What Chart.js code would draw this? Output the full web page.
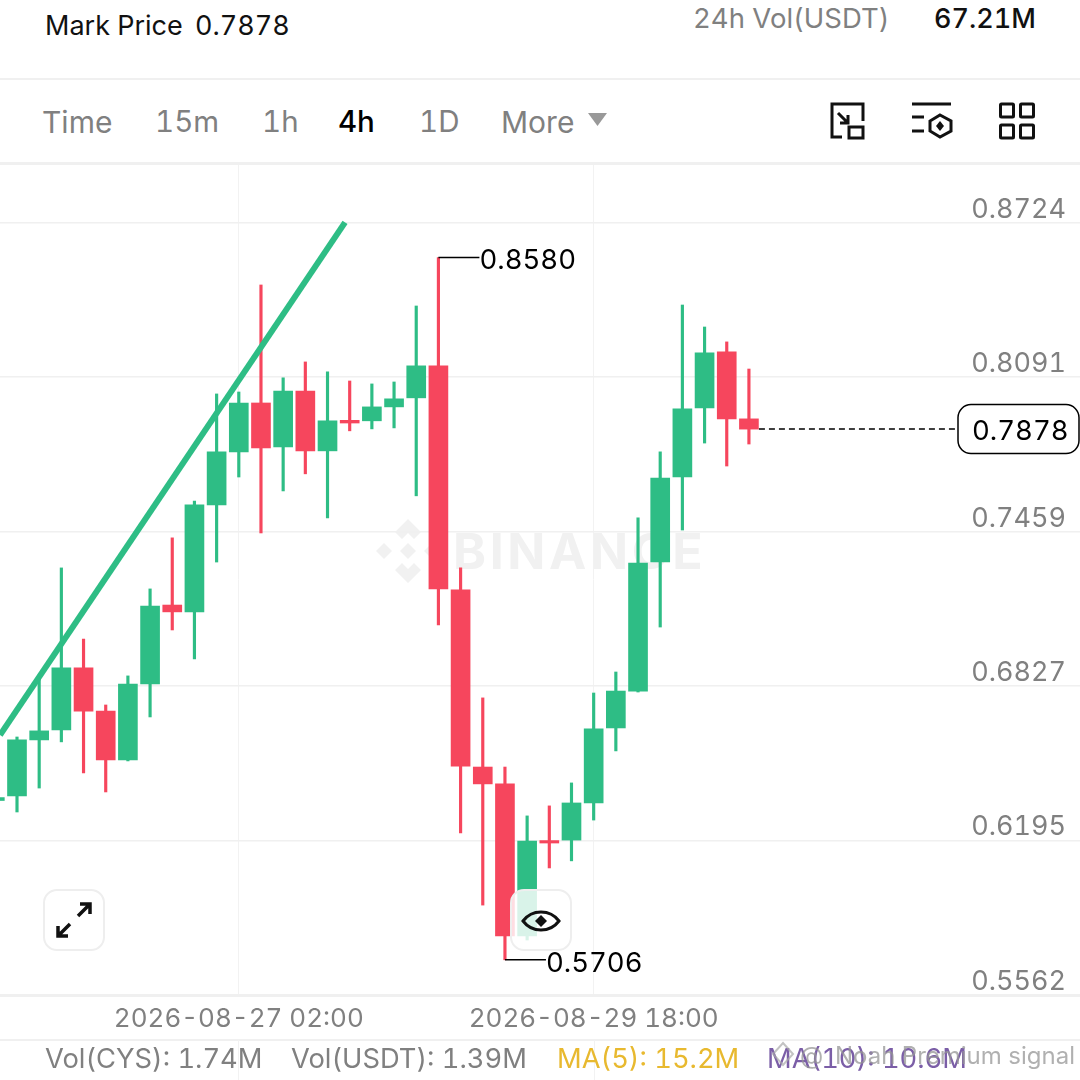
<!DOCTYPE html>
<html>
<head>
<meta charset="utf-8">
<script src="https://cdn.jsdelivr.net/npm/chart.js@4"></script>
<style>
html, body { margin: 0; padding: 0; background: #fff; }
body { width: 1080px; height: 1080px; position: relative; overflow: hidden; font-family: Inter, sans-serif; font-feature-settings: "tnum"; }
.t { position: absolute; white-space: nowrap; line-height: 1; }
.rule { position: absolute; left: 0; width: 1080px; background: #f0f0f0; }
.vline { position: absolute; width: 1px; top: 1040px; height: 40px; background: #f2f2f2; }
#wrap { position: absolute; left: 0; top: 165px; width: 1080px; height: 875px; }
.btn { position: absolute; width: 58px; height: 58px; top: 889px; border: 2px solid #eeeeee; border-radius: 14px; background: rgba(255,255,255,0.82); }
svg { position: absolute; overflow: visible; }
</style>
</head>
<body>
<div class="t" style="left:45px;top:12px;font-size:27px;color:#111">Mark Price</div>
<div class="t" style="left:195px;top:12px;font-size:27px;color:#111">0.7878</div>
<div class="t" style="left:693px;top:5px;font-size:27.5px;color:#808080">24h Vol(USDT)</div>
<div class="t" style="left:934px;top:5px;font-size:27px;color:#111;font-weight:500">67.21M</div>
<div class="rule" style="top:78px;height:2px"></div>

<div class="t" style="left:42px;top:107px;font-size:30px;color:#808080">Time</div>
<div class="t" style="left:155px;top:107px;font-size:29.5px;color:#808080">15m</div>
<div class="t" style="left:262px;top:107px;font-size:29.5px;color:#808080">1h</div>
<div class="t" style="left:338px;top:107px;font-size:29.5px;color:#000;font-weight:500">4h</div>
<div class="t" style="left:419px;top:107px;font-size:29.5px;color:#808080">1D</div>
<div class="t" style="left:501px;top:107px;font-size:30px;color:#808080">More</div>
<svg style="left:588px;top:113px" width="20" height="14"><path d="M0 0H19L9.5 13Z" fill="#999"/></svg>

<svg style="left:829px;top:102px" width="38" height="38" fill="none" stroke="#111" stroke-width="3">
  <path d="M13 35H3V2H34V19"/><rect x="20" y="25" width="14" height="11"/>
  <path d="M9 11L19 21M19 13V21H11"/>
</svg>
<svg style="left:912px;top:102px" width="40" height="36" fill="none" stroke="#111" stroke-width="3">
  <path d="M0 2H39M0 15H12M0 29H12"/>
  <path d="M28 13L39 19V29L28 35L18 29V19Z"/>
  <path d="M28 19L32 24L28 29L24 24Z" fill="#111" stroke="none"/>
</svg>
<svg style="left:999px;top:102px" width="36" height="38" fill="none" stroke="#111" stroke-width="3">
  <rect x="1.5" y="2" width="13" height="13" rx="1"/><rect x="21.5" y="2" width="13" height="13" rx="1"/>
  <rect x="1.5" y="23" width="13" height="13" rx="1"/><rect x="21.5" y="23" width="13" height="13" rx="1"/>
</svg>
<div class="rule" style="top:162px;height:3px"></div>

<!-- watermark sits behind the transparent canvas -->
<svg style="left:376px;top:519px" width="64" height="64" fill="#f1f1f1">
  <path d="M32 0L45 13L38 20L32 14L26 20L19 13Z"/>
  <path d="M32 64L45 51L38 44L32 50L26 44L19 51Z"/>
  <path d="M0 32L8 24L16 32L8 40Z"/><path d="M64 32L56 24L48 32L56 40Z"/>
  <path d="M32 24L40 32L32 40L24 32Z"/>
</svg>
<div class="t" style="left:453px;top:526px;font-size:50px;font-weight:700;color:#f1f1f1;letter-spacing:3.6px">BINANCE</div>

<div id="wrap"><canvas id="chart" width="1080" height="875"></canvas></div>

<div class="btn" style="left:43px">
  <svg style="left:11px;top:11px" width="36" height="36" fill="none" stroke="#111" stroke-width="3.5">
    <path d="M2 34L14 22M22 14L34 2M24 2H34V12M2 24V34H12"/>
  </svg>
</div>
<div class="btn" style="left:510px">
  <svg style="left:10px;top:16px" width="38" height="28" fill="none" stroke="#111" stroke-width="3">
    <path d="M1 14C10 2 28 2 37 14C28 26 10 26 1 14Z"/>
    <path d="M19 8L25 14L19 20L13 14Z" fill="#111" stroke="none"/>
  </svg>
</div>

<div class="rule" style="top:1039px;height:2px"></div>
<div class="vline" style="left:238px"></div>
<div class="vline" style="left:594px"></div>
<div class="t" style="left:45px;top:1045px;font-size:27.3px;color:#808080">Vol(CYS): 1.74M</div>
<div class="t" style="left:291px;top:1045px;font-size:27.3px;color:#808080">Vol(USDT): 1.39M</div>
<div class="t" style="left:557px;top:1045px;font-size:27.3px;color:#E8B92F">MA(5): 15.2M</div>
<div class="t" style="left:767px;top:1045px;font-size:27.3px;color:#7B5EA7">MA(10): 10.6M</div>
<svg style="left:772px;top:1042px" width="22" height="26" fill="none" stroke="rgba(170,170,170,0.7)" stroke-width="2"><path d="M11 1L21 12L11 23L1 12Z"/></svg>
<div class="t" style="left:800px;top:1044px;font-size:24px;color:rgba(150,150,150,0.75)">@</div>
<div class="t" style="left:835px;top:1044px;font-size:24px;color:rgba(150,150,150,0.75)">Noah Premium signal</div>

<script>
// 4h candles, oldest first (first one is cut off by the left edge)
var opens  = [0.6358,0.6377,0.6606,0.6647,0.6901,0.6724,0.6524,0.6835,0.7158,0.7130,0.7568,0.7785,0.7985,0.7805,0.8034,0.7789,0.7914,0.7912,0.7969,0.8006,0.8137,0.7220,0.6495,0.6426,0.5804,0.6194,0.6196,0.6348,0.6655,0.6806,0.7334,0.7682,0.7965,0.8194,0.7920];
var closes = [0.6370,0.6606,0.6643,0.6901,0.6724,0.6524,0.6835,0.7154,0.7130,0.7568,0.7785,0.7985,0.7801,0.8034,0.7789,0.7912,0.7903,0.7969,0.8002,0.8137,0.7224,0.6499,0.6426,0.5804,0.6192,0.6184,0.6348,0.6651,0.6806,0.7330,0.7678,0.7961,0.8190,0.7920,0.7878];
var highs  = [0.6370,0.6618,0.6860,0.7310,0.7019,0.6749,0.6868,0.7224,0.7433,0.7584,0.8022,0.8030,0.8468,0.8088,0.8153,0.8112,0.8075,0.8063,0.8071,0.8382,0.8580,0.7310,0.6778,0.6495,0.6295,0.6336,0.6430,0.6798,0.6884,0.7515,0.7785,0.8386,0.8296,0.8235,0.8124];
var lows   = [0.6358,0.6311,0.6409,0.6598,0.6471,0.6393,0.6520,0.6700,0.7056,0.6937,0.7334,0.7682,0.7453,0.7625,0.7695,0.7515,0.7871,0.7879,0.7883,0.7605,0.7077,0.6225,0.5930,0.5706,0.5787,0.6082,0.6111,0.6278,0.6561,0.6802,0.7068,0.7465,0.7821,0.7727,0.7817];
var xLabels = ["2026-08-27 02:00", "2026-08-29 18:00"];
var xLabelIndex = [11, 27];
var priceTicks = [0.8724, 0.8091, 0.7459, 0.6827, 0.6195, 0.5562];
var trendX = [0.2335, 15.79];
var trendY = [0.6626, 0.8724];
var highPrice = 0.8580, lowPrice = 0.5706, lastPrice = 0.7878;

var UP = '#2EBD85', DOWN = '#F6465D';
var colors = [], wicks = [], bodies = [];
for (var i = 0; i < opens.length; i++) {
    colors.push(closes[i] >= opens[i] ? UP : DOWN);
    wicks.push({x: i, y: [lows[i], highs[i]]});
    bodies.push({x: i, y: [opens[i], closes[i]]});
}

function f4(v) { return v.toFixed(4); }

var marks = {
    id: 'marks',
    afterDatasetsDraw: function(chart) {
        var c = chart.ctx, xs = chart.scales.x, ys = chart.scales.y;
        c.save();
        c.font = '27.5px Inter';
        c.textBaseline = 'middle';
        c.fillStyle = '#000';
        c.strokeStyle = '#000';
        c.lineWidth = 1.5;

        var hx = xs.getPixelForValue(highs.indexOf(highPrice)), hy = ys.getPixelForValue(highPrice);
        c.beginPath(); c.moveTo(hx, hy); c.lineTo(hx + 41, hy); c.stroke();
        c.fillText(f4(highPrice), hx + 41, hy + 3);

        var lx = xs.getPixelForValue(lows.indexOf(lowPrice)), ly = ys.getPixelForValue(lowPrice);
        c.beginPath(); c.moveTo(lx, ly); c.lineTo(lx + 41, ly); c.stroke();
        c.fillText(f4(lowPrice), lx + 41, ly + 4);

        var px = xs.getPixelForValue(opens.length - 1) + 10, py = ys.getPixelForValue(lastPrice);
        c.setLineDash([6, 4]);
        c.beginPath(); c.moveTo(px, py); c.lineTo(958, py); c.stroke();
        c.setLineDash([]);
        c.fillStyle = '#fff';
        c.beginPath(); c.roundRect(958, py - 24.5, 121, 49, 13); c.fill(); c.stroke();
        c.fillStyle = '#000';
        c.fillText(f4(lastPrice), 972, py + 3);
        c.restore();
    }
};

new Chart(document.getElementById('chart').getContext('2d'), {
    data: {
        datasets: [
            { type: 'line', data: trendX.map(function(x, n) { return {x: x, y: trendY[n]}; }), borderColor: UP, borderWidth: 6, pointRadius: 0, order: 0 },
            { type: 'bar', data: bodies, backgroundColor: colors, barThickness: 19, grouped: false, order: 1 },
            { type: 'bar', data: wicks, backgroundColor: colors, barThickness: 2.5, grouped: false, order: 2 }
        ]
    },
    options: {
        responsive: false,
        animation: false,
        layout: { padding: 0 },
        plugins: { legend: { display: false }, tooltip: { enabled: false } },
        scales: {
            x: {
                type: 'linear', offset: false, min: 0.2335, max: 48.927,
                grid: { color: '#f2f2f2', lineWidth: 1, drawTicks: false, offset: false },
                border: { color: '#f0f0f0', width: 3 },
                afterBuildTicks: function(s) { s.ticks = xLabelIndex.map(function(v) { return {value: v}; }); },
                afterFit: function(s) { s.height = 45; s.paddingLeft = 0; s.paddingRight = 0; },
                ticks: {
                    autoSkip: false, maxRotation: 0, padding: 9, color: '#808080',
                    font: { family: 'Inter', size: 26 },
                    callback: function(v) { return xLabels[xLabelIndex.indexOf(v)]; }
                }
            },
            y: {
                type: 'linear', position: 'right', min: 0.5562, max: 0.8959,
                grid: { color: '#f0f0f0', lineWidth: 1.5, drawTicks: false },
                border: { display: false },
                afterBuildTicks: function(s) { s.ticks = priceTicks.map(function(v) { return {value: v}; }); },
                afterFit: function(s) { s.width = 0; s.paddingTop = 0; s.paddingBottom = 0; },
                ticks: {
                    mirror: true, padding: -14, labelOffset: -13, color: '#808080',
                    font: { family: 'Inter', size: 27 },
                    callback: function(v) { return f4(v); }
                }
            }
        }
    },
    plugins: [marks]
});
</script>
</body>
</html>
